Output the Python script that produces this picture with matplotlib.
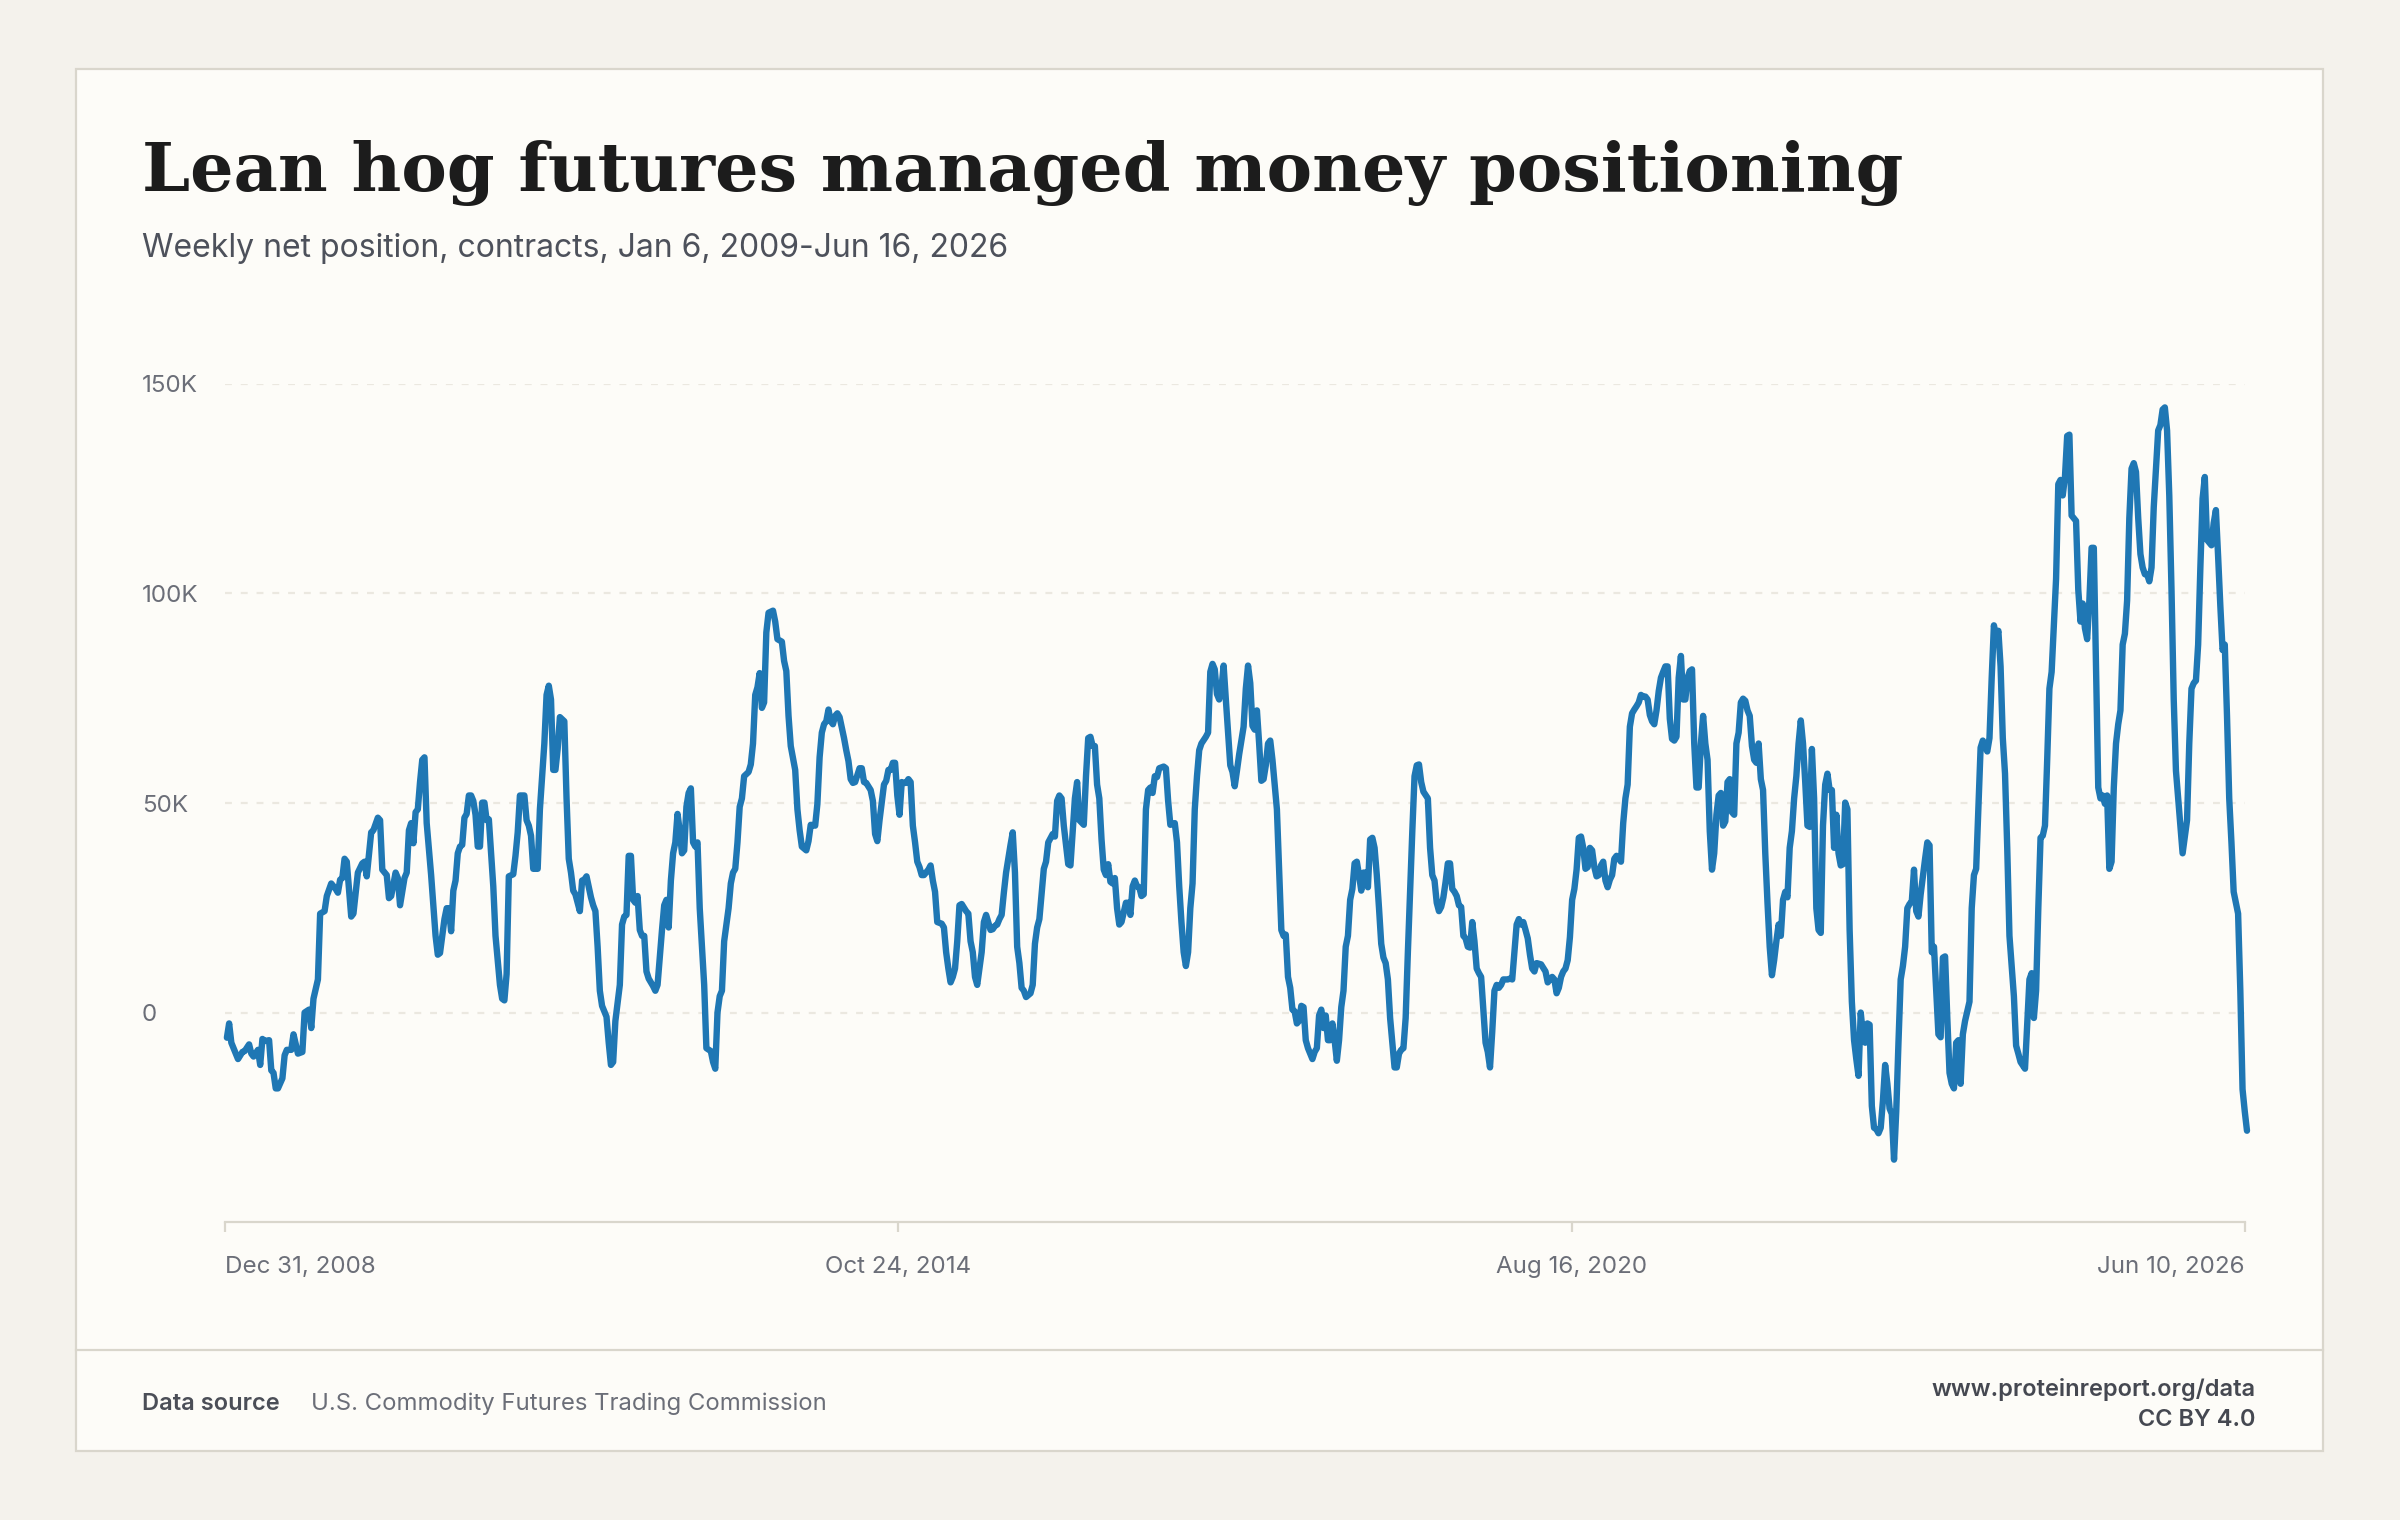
import pandas as pd
import matplotlib.pyplot as plt
from matplotlib.patches import Rectangle
from matplotlib.lines import Line2D

# Managed money net position (thousand contracts).
# x = weeks since the first report (Jan 6, 2009)
START = pd.Timestamp("2009-01-06")

weeks_a = [0, 1, 2, 3, 5, 7, 8, 10, 11, 12, 14, 15, 16, 17, 19, 20, 21, 22, 23, 25,
           26, 27, 29, 30, 32, 34, 35, 37, 38, 39, 41, 42, 44, 45, 47, 49, 50, 51, 52, 53,
           54, 56, 57, 59, 61, 62, 63, 65, 66, 68, 69, 70, 72, 73, 74, 76, 77, 78, 80, 81,
           82, 83, 84, 85, 86, 87, 88, 89, 90, 92, 94, 95, 96, 98, 99, 100, 101, 102, 103, 104,
           105, 106, 107, 108, 109, 110, 111, 112, 113, 114, 115, 116, 117, 118, 120, 121, 123, 124, 125, 126,
           127, 129, 130, 131, 132, 134, 135, 136, 137, 138, 140, 141, 143, 144, 145, 146, 147, 148, 149, 150]
net_a = [-6.0, -2.6, -7.2, -8.5, -11.1, -9.4, -9.2, -7.6, -9.8, -10.5, -8.9, -12.5, -6.3, -6.8, -6.6, -13.8, -14.4, -18.1, -18.1, -15.7,
         -10.2, -8.9, -8.9, -5.2, -9.8, -9.4, 0.0, 0.7, -3.7, 3.3, 7.9, 23.6, 24.2, 27.8, 30.8, 29.5, 28.6, 31.7, 32.1, 36.7,
         36.0, 22.9, 23.6, 33.4, 35.6, 36.0, 32.5, 43.0, 43.5, 46.5, 45.9, 34.1, 32.8, 27.3, 27.8, 33.4, 32.1, 25.6, 32.1, 33.4,
         43.5, 45.2, 40.4, 47.8, 48.5, 55.0, 60.3, 60.9, 45.2, 32.8, 18.3, 13.8, 14.2, 22.3, 24.9, 24.9, 19.4, 29.1, 31.5, 38.0,
         39.6, 40.0, 46.5, 47.4, 51.8, 51.8, 50.5, 47.2, 39.6, 39.6, 50.1, 50.1, 45.9, 46.1, 30.1, 18.3, 6.6, 3.3, 2.9, 9.2,
         32.5, 33.0, 37.4, 43.0, 51.8, 51.8, 45.9, 44.6, 42.2, 34.3, 34.3, 48.5, 64.2, 75.8, 78.0, 74.7, 57.9, 57.9, 62.9, 70.5]

weeks_b = [152, 153, 154, 155, 156, 157, 159, 160, 161, 162, 164, 165, 166, 167, 168, 169, 171, 172, 173, 174,
           175, 177, 178, 179, 180, 181, 182, 183, 184, 185, 186, 187, 188, 189, 190, 192, 193, 194, 196, 197,
           198, 199, 200, 201, 202, 203, 204, 205, 206, 207, 208, 209, 210, 211, 212, 213, 215, 216, 218, 219,
           220, 221, 222, 223, 224, 226, 227, 228, 229, 230, 231, 232, 233, 235, 236, 237, 238, 239, 240, 241,
           242, 243, 244, 246, 247, 248, 250, 251, 252, 253, 254, 256, 257, 258, 259, 261, 262, 263, 265, 266,
           267, 268, 269, 270, 271, 272, 273, 274, 275, 276, 278, 279, 280, 281, 282, 283, 285, 286, 287, 288,
           290, 291, 292, 293, 294, 296, 297, 298, 299, 300, 301, 302, 303, 304, 305]
net_b = [69.5, 51.1, 36.7, 33.4, 29.1, 28.2, 24.2, 31.5, 31.7, 32.5, 27.5, 25.6, 24.2, 15.7, 5.2, 1.6, -1.0, -7.2, -12.5, -11.8,
         -2.0, 6.6, 21.0, 22.9, 23.3, 37.4, 37.4, 26.9, 26.2, 27.8, 19.7, 18.3, 18.3, 9.8, 8.1, 6.3, 5.2, 6.6, 19.7, 25.6,
         26.9, 20.3, 31.5, 38.0, 40.6, 47.4, 43.3, 38.0, 38.7, 49.1, 52.4, 53.5, 40.6, 39.6, 40.6, 24.9, 6.6, -8.5, -9.2, -11.8,
         -13.4, 0.0, 3.9, 5.2, 17.0, 24.9, 30.8, 33.4, 34.3, 40.6, 49.1, 51.1, 56.4, 57.4, 59.2, 64.2, 75.8, 77.6, 81.0, 72.7,
         74.0, 90.7, 95.4, 95.9, 93.3, 89.1, 88.5, 83.9, 81.5, 70.8, 63.6, 57.9, 48.5, 43.5, 39.6, 38.7, 40.9, 44.8, 44.6, 49.8,
         60.9, 66.8, 68.8, 69.5, 72.3, 69.5, 68.8, 70.8, 71.4, 70.5, 65.5, 62.6, 60.0, 55.7, 54.8, 55.0, 58.3, 58.3, 55.0, 54.8,
         53.1, 50.5, 42.6, 40.9, 45.9, 54.4, 55.3, 57.9, 57.9, 59.6, 59.6, 51.8, 47.2, 55.0, 54.8]

weeks_c = [306, 307, 308, 309, 310, 311, 312, 313, 314, 316, 317, 318, 319, 320, 322, 323, 324, 325, 326, 327,
           328, 329, 330, 331, 333, 334, 335, 336, 337, 338, 339, 340, 341, 342, 344, 345, 346, 347, 348, 349,
           350, 351, 353, 354, 355, 356, 357, 358, 359, 360, 362, 363, 364, 365, 366, 367, 368, 369, 370, 372,
           373, 374, 375, 376, 377, 378, 379, 380, 381, 382, 383, 384, 386, 387, 388, 389, 390, 391, 392, 393,
           394, 395, 396, 397, 398, 399, 400, 401, 402, 403, 405, 406, 407, 408, 409, 410, 411, 412, 413, 414,
           415, 416, 417, 418, 419, 420, 422, 423, 424, 425, 427, 428, 429, 430, 431, 432, 433, 434, 435, 436,
           437, 438, 439, 441, 442, 443, 444, 445, 446, 447, 448, 449, 450]
net_c = [54.8, 55.7, 55.0, 44.6, 40.6, 36.0, 34.7, 32.8, 32.8, 34.1, 35.1, 31.5, 28.8, 21.6, 21.2, 20.3, 14.4, 10.5, 7.2, 8.5,
         10.5, 17.0, 25.6, 25.9, 24.2, 23.6, 17.0, 14.4, 8.5, 6.6, 10.5, 14.4, 21.6, 23.3, 19.7, 19.9, 20.7, 21.0, 22.3, 23.3,
         28.6, 33.4, 40.0, 43.0, 33.4, 15.7, 11.8, 5.9, 5.2, 3.7, 4.6, 6.6, 16.4, 20.3, 22.3, 28.2, 34.3, 36.0, 40.6, 42.6,
         42.0, 50.5, 51.8, 51.1, 44.6, 40.0, 35.4, 35.1, 43.3, 51.1, 55.0, 45.9, 44.8, 56.4, 65.5, 65.8, 63.6, 63.6, 54.4, 51.1,
         41.3, 34.1, 32.8, 35.4, 31.2, 30.8, 32.1, 24.9, 21.0, 21.6, 26.2, 26.2, 23.3, 30.1, 31.5, 30.1, 29.9, 27.8, 28.2, 48.5,
         53.1, 53.7, 52.4, 56.4, 56.2, 58.3, 58.7, 58.3, 50.5, 44.8, 45.2, 40.6, 30.1, 21.6, 14.4, 11.1, 14.4, 24.9, 30.8, 48.5,
         56.4, 62.6, 64.2, 65.8, 66.8, 81.3, 83.2, 81.9, 76.0, 74.7, 77.3, 82.8, 74.7]

weeks_d = [452, 453, 454, 455, 456, 458, 459, 460, 461, 462, 463, 464, 465, 466, 467, 468, 469, 470, 471, 473,
           474, 475, 476, 477, 478, 479, 480, 481, 482, 483, 484, 485, 486, 487, 488, 489, 490, 491, 492, 493,
           494, 495, 496, 497, 498, 499, 500, 501, 502, 503, 504, 505, 506, 507, 508, 509, 510, 511, 512, 513,
           514, 515, 516, 517, 518, 519, 520, 521, 522, 523, 524, 525, 526, 527, 528, 529, 530, 531, 532, 533,
           534, 535, 536, 537, 538, 539, 541, 542, 543, 544, 545, 546, 547, 548, 549, 550, 551, 552, 553, 554,
           555, 556, 557, 558, 559, 560, 561, 562, 563, 564, 565, 566, 567, 568, 569, 570, 571, 572, 573, 574,
           575, 577, 578, 579, 580, 581, 582, 583, 584, 585, 586, 587, 588, 589, 590, 592, 594, 595, 596, 597,
           598, 599, 600, 601, 602, 603]
net_d = [59.0, 57.4, 54.0, 57.7, 61.6, 68.2, 77.3, 82.8, 78.6, 68.4, 67.5, 72.1, 64.2, 55.3, 55.7, 59.0, 64.2, 64.9, 60.3, 48.5,
         34.1, 19.7, 18.3, 18.6, 8.5, 5.9, 0.7, 0.3, -2.6, -2.0, 1.6, 1.3, -6.6, -8.5, -9.8, -11.1, -9.4, -8.5, -0.7, 0.7,
         -3.7, -0.7, -6.6, -6.6, -2.6, -6.6, -11.5, -6.6, 1.3, 5.2, 15.7, 18.3, 26.9, 29.5, 35.6, 36.0, 32.8, 29.1, 33.4, 33.4,
         29.9, 41.3, 41.7, 39.3, 32.8, 24.9, 16.4, 13.1, 11.8, 7.9, -1.3, -7.2, -13.1, -13.1, -9.8, -8.9, -8.5, -1.3, 14.4, 28.8,
         43.3, 56.4, 59.0, 59.2, 55.0, 52.7, 51.1, 39.3, 32.8, 31.5, 26.2, 24.2, 25.2, 27.5, 31.2, 35.6, 35.6, 29.5, 28.8, 27.8,
         25.6, 25.2, 18.3, 17.7, 15.7, 15.5, 21.6, 17.0, 10.5, 9.4, 8.5, 0.7, -7.2, -9.4, -13.1, -4.6, 5.2, 6.6, 5.9, 6.6,
         7.9, 7.9, 8.1, 7.9, 14.4, 21.0, 22.3, 21.0, 21.6, 19.7, 17.7, 13.8, 10.5, 9.8, 11.8, 11.5, 9.8, 7.2, 7.9, 8.5,
         7.9, 4.6, 5.9, 8.5, 9.8, 10.5]

weeks_e = list(range(604, 627)) + list(range(628, 761))
net_e = [12.5, 18.0, 26.9, 29.5, 34.1, 41.7, 42.0, 39.3, 34.3, 34.7, 39.3, 38.7, 34.7, 32.5, 32.8, 35.1, 36.0, 31.5, 29.9, 31.7,
         32.8, 36.7, 37.4,
         36.0, 45.2, 51.1, 54.4, 68.2, 71.4, 72.3, 73.1, 74.0, 75.8, 75.4, 75.4, 74.7, 71.0, 69.5, 68.8, 72.1, 76.7, 79.9, 81.3,
         82.6, 82.6, 70.1, 65.3, 64.9, 65.8, 79.9, 85.1, 74.7, 74.7, 79.9, 81.5, 81.9, 64.2, 53.7, 53.7, 64.2, 70.8, 64.2, 60.3,
         43.3, 34.1, 38.0, 47.2, 51.8, 52.4, 44.6, 45.6, 55.0, 55.7, 47.8, 47.2, 64.2, 66.8, 74.0, 74.9, 74.4, 72.1, 70.8, 63.6,
         60.3, 59.6, 64.2, 55.7, 53.1, 38.0, 26.2, 15.7, 8.9, 12.5, 17.0, 21.0, 18.3, 26.9, 28.8, 27.5, 39.3, 43.3, 51.1, 56.4,
         64.2, 69.7, 64.2, 55.0, 44.6, 44.3, 62.9, 51.1, 24.9, 19.7, 19.0, 44.6, 54.4, 57.0, 53.1, 53.1, 39.3, 47.2, 38.0, 35.1,
         35.4, 50.1, 48.5, 19.7, 2.6, -6.6, -11.1, -15.1, 0.0, -5.2, -7.2, -2.6, -2.9, -22.3, -27.5, -27.8, -28.8, -27.5, -21.0, -12.5,
         -17.0, -22.9, -24.2, -35.1, -23.6, -7.2, 7.9, 11.1, 15.7, 24.9, 25.9, 26.5, 34.1]

weeks_f = [761, 762, 763, 765, 766, 767, 768, 769, 771, 772, 773, 774, 775, 776, 777, 778, 779, 780, 781, 782,
           783, 785, 786, 787, 788, 789, 790, 791, 792, 793, 794, 795, 796, 797, 798, 799, 800, 801, 802, 803,
           805, 806, 807, 808, 810, 811, 812, 813, 814, 815, 816, 817, 818, 819, 820, 821, 822, 824, 825, 826,
           827, 828, 829, 830, 831, 833, 834, 835, 836, 837, 838, 839, 840, 841, 842, 843, 844, 845, 846, 847,
           848, 849, 850, 851, 852, 853, 854, 855, 856, 857, 858, 859, 860, 861, 862, 863, 864, 865, 866, 867,
           868, 870, 871, 872, 873, 874, 875, 876, 877, 878, 880, 881, 883, 884, 885, 886, 887, 888, 889, 890,
           891, 892, 894, 895, 896, 897, 898, 899, 900, 901, 902, 903, 904, 906, 907, 908, 909, 910]
net_f = [24.2, 22.9, 28.2, 36.7, 40.6, 39.9, 14.4, 15.7, -5.2, -5.9, 13.1, 13.4, -1.3, -14.4, -17.0, -18.1, -7.2, -6.6, -17.0, -5.2,
         -2.0, 2.6, 24.9, 32.8, 34.3, 48.5, 63.2, 64.9, 63.6, 62.3, 65.5, 79.9, 92.4, 89.1, 91.1, 82.6, 65.5, 57.0, 39.3, 18.3,
         3.9, -7.9, -9.8, -11.8, -13.4, -2.6, 7.9, 9.4, -1.3, 5.2, 24.9, 41.7, 42.2, 44.6, 60.3, 77.3, 81.3, 103.5, 126.1, 127.1,
         123.4, 127.8, 137.6, 137.9, 118.6, 117.3, 100.9, 93.3, 97.6, 91.7, 89.1, 98.3, 110.9, 110.9, 82.6, 53.7, 51.1, 51.8, 49.8, 51.8,
         34.3, 36.0, 53.7, 64.2, 68.8, 72.1, 87.8, 90.4, 98.3, 118.0, 129.8, 131.1, 129.0, 118.0, 109.4, 106.2, 104.6, 104.6, 102.9, 106.2,
         120.6, 138.9, 140.2, 143.9, 144.4, 138.9, 123.3, 100.9, 74.7, 57.7, 44.6, 38.0, 45.9, 64.2, 77.3, 78.6, 79.2, 87.8, 106.2, 122.6,
         127.8, 112.8, 111.5, 116.8, 119.9, 108.8, 97.0, 86.5, 87.8, 70.8, 51.1, 40.6, 28.8, 23.6, 5.2, -18.3, -23.6, -28.2]

tick_dates = ["2008-12-31", "2014-10-24", "2020-08-16", "2026-06-10"]
tick_labels = ["Dec 31, 2008", "Oct 24, 2014", "Aug 16, 2020", "Jun 10, 2026"]
y_ticks = [0, 50000, 100000, 150000]
y_labels = ["0", "50K", "100K", "150K"]

weeks = weeks_a + weeks_b + weeks_c + weeks_d + weeks_e + weeks_f
net_k = net_a + net_b + net_c + net_d + net_e + net_f
assert len(weeks) == len(net_k)

dates = START + pd.to_timedelta([w * 7 for w in weeks], unit="D")
net = pd.Series([v * 1000 for v in net_k], index=dates)

# colours
BG = "#f4f2ec"
CARD = "#fdfcf8"
BORDER = "#d9d6cc"
GRID = "#ebe8e0"
LINE = "#1f77b4"
MUTED = "#6b6e78"

plt.rcParams["font.family"] = ["Inter", "DejaVu Sans"]

fig = plt.figure(figsize=(12, 7.6), dpi=200, facecolor=BG)

# card + footer divider (kept behind the axes)
fig.patches.append(Rectangle((0.0317, 0.0454), 0.9363, 0.9092, transform=fig.transFigure,
                             facecolor=CARD, edgecolor=BORDER, linewidth=0.8, zorder=-2))
fig.add_artist(Line2D([0.0317, 0.968], [0.1118, 0.1118], transform=fig.transFigure,
                      color=BORDER, linewidth=0.8, zorder=-1))

ax = fig.add_axes([0.09375, 0.196, 0.8417, 0.5514])
ax.set_facecolor("none")
ax.plot(net.index, net.values, color=LINE, linewidth=2.3, solid_joinstyle="round",
        solid_capstyle="round", clip_on=False, zorder=3)

ax.set_xlim(pd.Timestamp("2008-12-31"), pd.Timestamp("2026-06-10"))
ax.set_ylim(-50000, 150000)

ax.set_xticks(pd.to_datetime(tick_dates))
ax.set_xticklabels(tick_labels)
ax.set_yticks(y_ticks)
ax.set_yticklabels(y_labels)

ax.tick_params(axis="x", length=3.6, width=0.8, color=BORDER, pad=8.6,
               labelsize=8.7, labelcolor=MUTED)
ax.tick_params(axis="y", length=0, pad=29.9, labelsize=8.7, labelcolor=MUTED)
for lab in ax.get_yticklabels():
    lab.set_horizontalalignment("left")
xl = ax.get_xticklabels()
xl[0].set_horizontalalignment("left")
xl[-1].set_horizontalalignment("right")

ax.yaxis.grid(True, color=GRID, linewidth=0.8, linestyle=(0, (3.1, 4.0)))
ax.xaxis.grid(False)
ax.set_axisbelow(True)
for side in ["top", "left", "right"]:
    ax.spines[side].set_visible(False)
ax.spines["bottom"].set_color(BORDER)
ax.spines["bottom"].set_linewidth(0.8)

# titles
fig.text(0.0592, 0.8743, "Lean hog futures managed money positioning",
         family="DejaVu Serif", weight="bold", fontsize=24.6, color="#1c1c1c", va="baseline")
fig.text(0.0592, 0.8309, "Weekly net position, contracts, Jan 6, 2009-Jun 16, 2026",
         fontsize=11.5, color="#4d515b", va="baseline")

# footer
fig.text(0.0592, 0.0762, "Data source", fontsize=8.5, weight="semibold", color="#4b4e57", va="center")
fig.text(0.1296, 0.0762, "U.S. Commodity Futures Trading Commission", fontsize=8.6,
         color=MUTED, va="center")
fig.text(0.94, 0.0860, "www.proteinreport.org/data", fontsize=8.5, weight="semibold",
         color="#454851", ha="right", va="center")
fig.text(0.94, 0.0656, "CC BY 4.0", fontsize=8.5, weight="semibold",
         color="#454851", ha="right", va="center")

fig.savefig("out.png", dpi=200, facecolor=BG)
